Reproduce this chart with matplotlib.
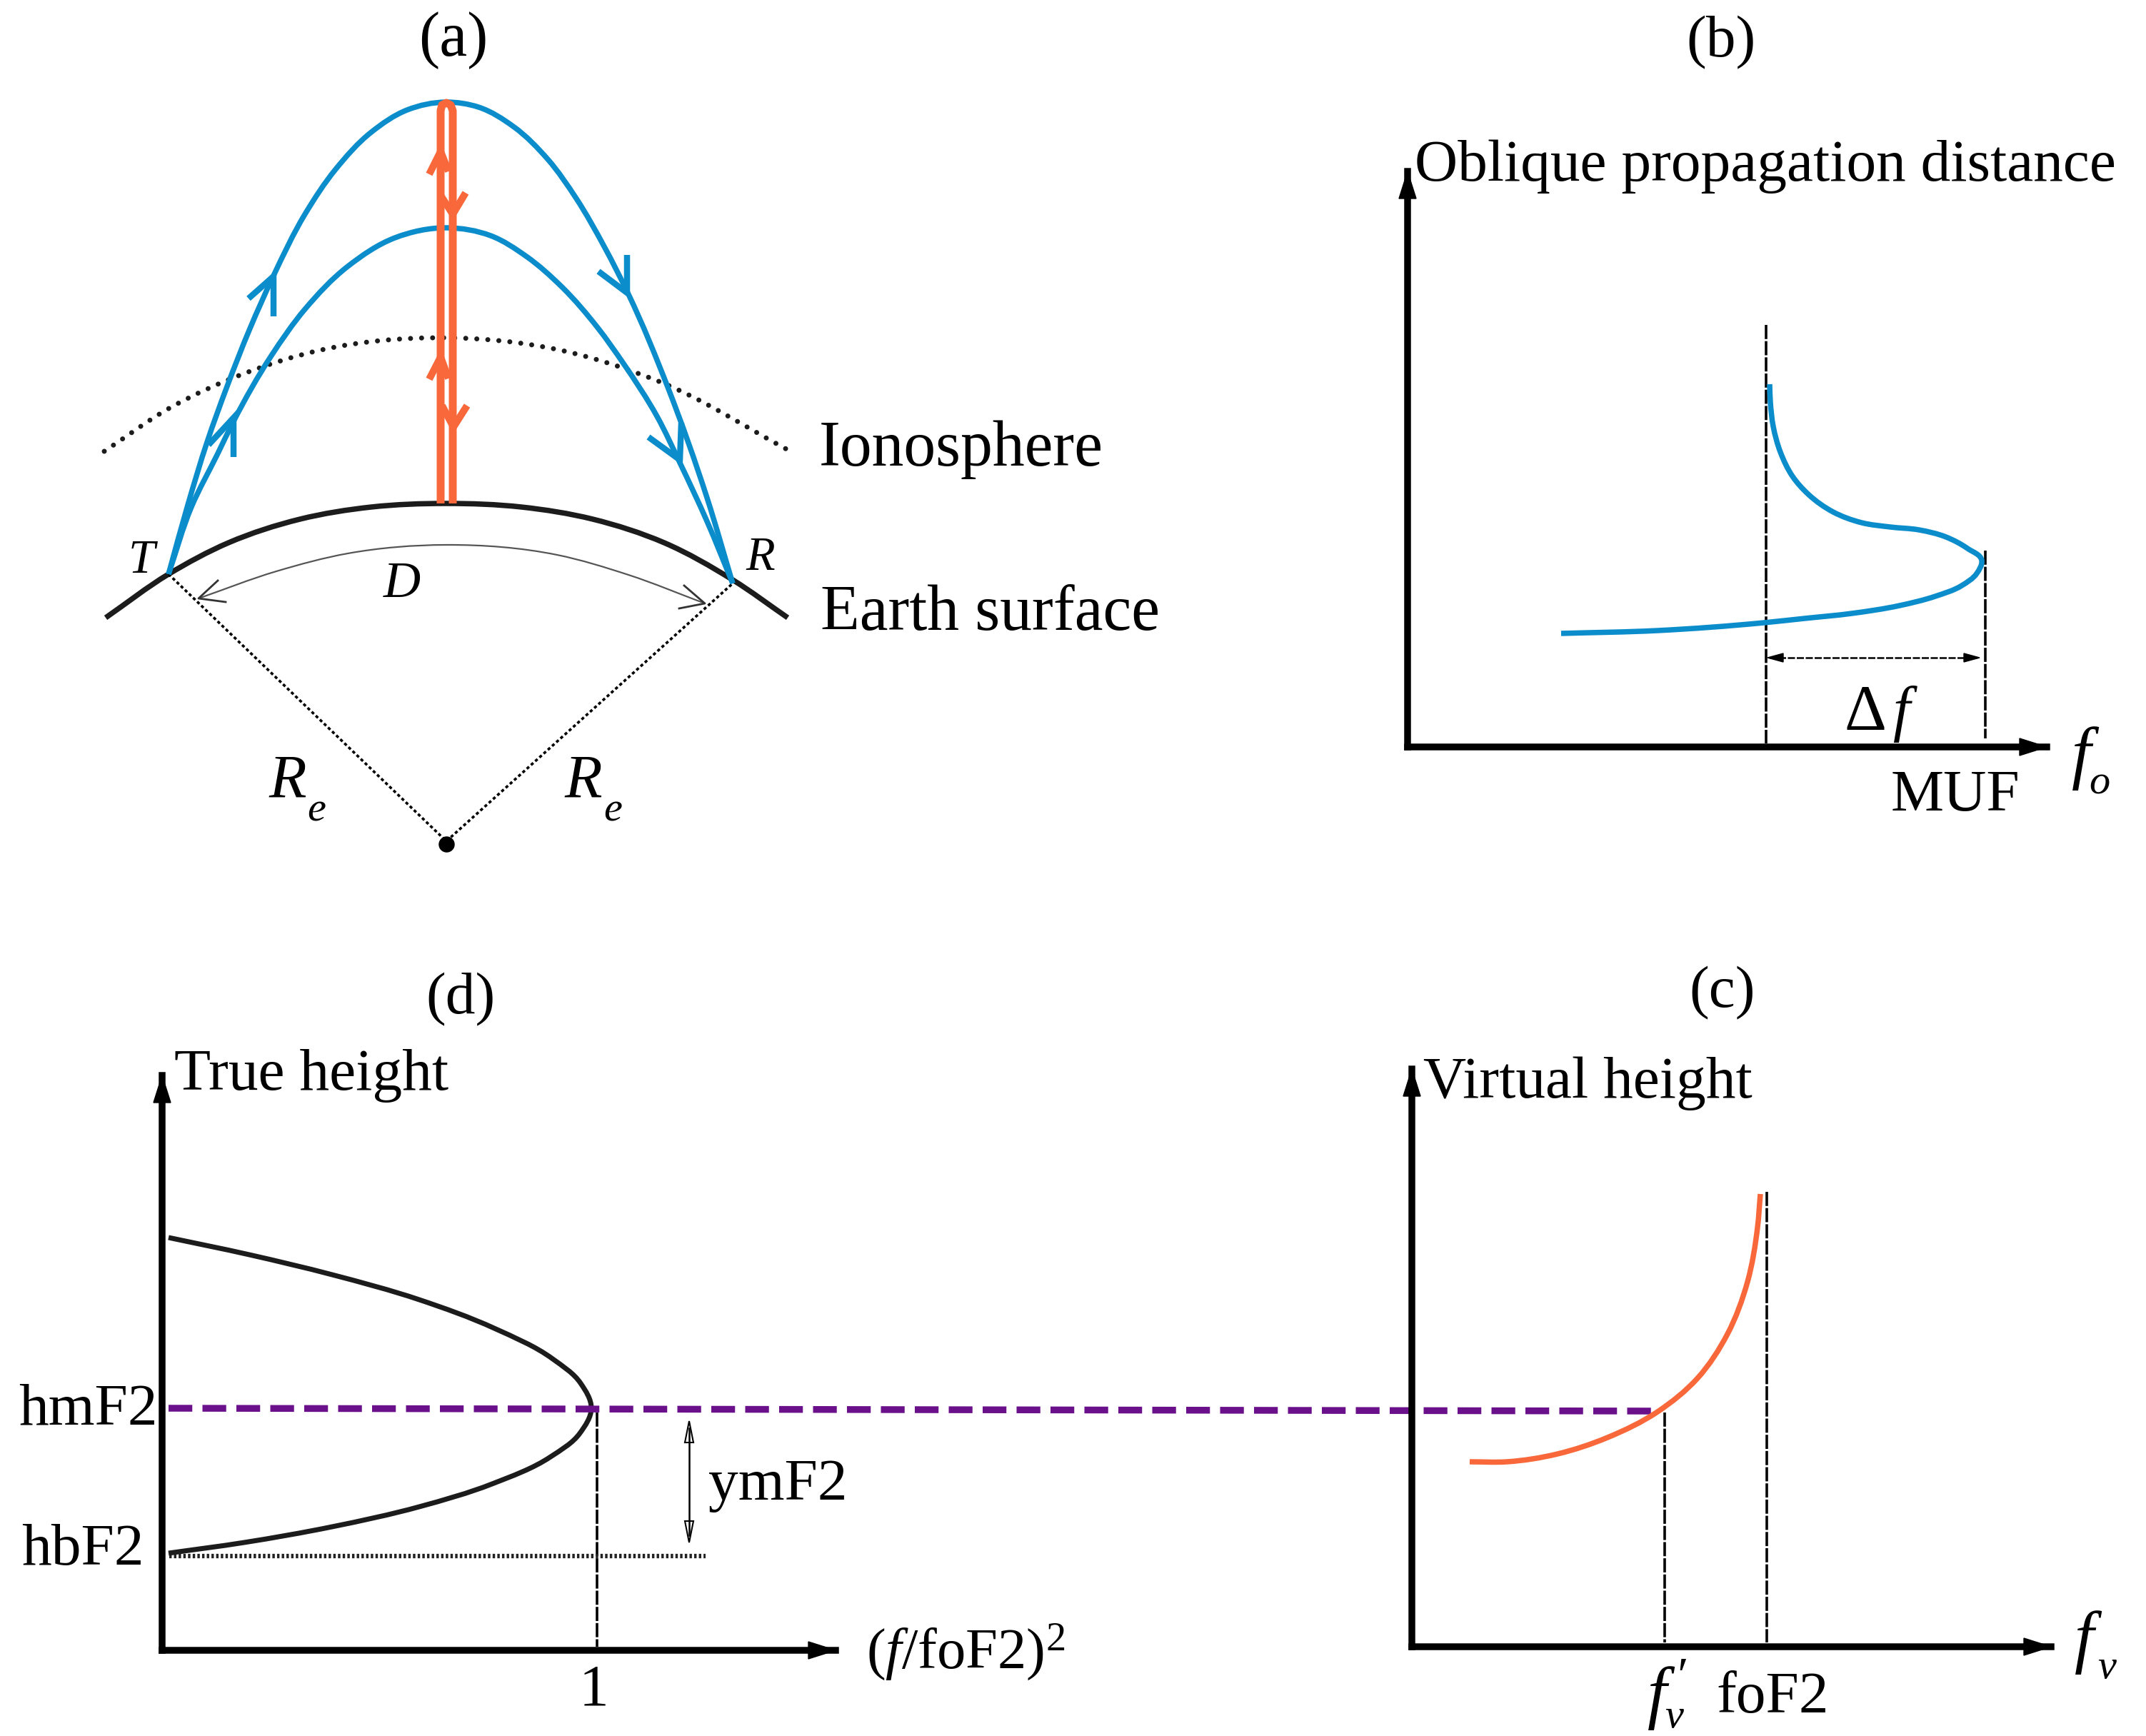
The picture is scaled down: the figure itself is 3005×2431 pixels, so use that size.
import numpy as np
import matplotlib
matplotlib.use('Agg')
import matplotlib.pyplot as plt
from matplotlib.path import Path
from matplotlib.patches import PathPatch, Polygon

plt.rcParams['font.family'] = ['Liberation Serif', 'DejaVu Serif']
plt.rcParams['mathtext.fontset'] = 'custom'
plt.rcParams['mathtext.rm'] = 'Liberation Serif'
plt.rcParams['mathtext.it'] = 'Liberation Serif:italic'

blue = '#0b8ccb'
orange = '#f8683a'
purple = '#6a108a'
black = '#1c1c1c'

# all curves are read off the picture, in image pixels
# (a) ray paths
outer_x = [236, 263, 290, 318, 350, 383, 427, 470, 520, 570, 625, 670, 720, 767, 807, 847, 880, 935, 990, 1026]
outer_y = [804, 707, 619, 541, 460, 386, 300, 237, 185, 154, 143, 150, 178, 223, 278, 347, 412, 542, 697, 817]
inner_x = [236, 268, 305, 327, 380, 427, 487, 553, 626, 687, 737, 787, 837, 873, 920, 952, 990, 1026]
inner_y = [804, 710, 635, 590, 498, 433, 373, 333, 319, 330, 359, 402, 459, 509, 583, 648, 730, 817]
earth_x = [148, 236, 320, 420, 520, 625, 730, 830, 930, 1026, 1103]
earth_y = [865, 804, 760, 727, 710, 705, 710, 727, 760, 812, 865]
iono_x = [146, 240, 342, 450, 623, 783, 920, 1107]
iono_y = [632, 570, 523, 490, 473, 490, 533, 632]
arc_x = [278, 387, 487, 625, 780, 880, 987]
arc_y = [838, 800, 775, 763, 777, 805, 845]
vert_x = [617, 617, 619, 625, 631, 634, 634]
vert_y = [705, 155, 147, 144, 147, 155, 705]

blue_barbs = [
	[(348, 418), (383, 387), (383, 443)],
	[(292, 623), (327, 585), (327, 640)],
	[(838, 380), (878, 410), (878, 357)],
	[(908, 612), (952, 644), (954, 592)],
]
orange_barbs = [
	[(601, 244), (617, 212), (628, 240)],
	[(616, 272), (634, 300), (652, 270)],
	[(601, 531), (617, 500), (628, 530)],
	[(619, 568), (635, 598), (654, 568)],
]

# (b) oblique ionogram
oblique_x = [2478, 2479, 2483, 2493, 2510, 2533, 2567, 2607, 2647, 2687, 2725, 2755, 2775, 2768, 2747, 2710, 2660, 2593, 2527, 2470, 2321, 2186]
oblique_y = [538, 563, 597, 633, 667, 693, 717, 732, 738, 742, 752, 768, 785, 803, 820, 835, 848, 859, 866, 872, 883, 887]

# (d) true height profile
true_x = [236, 349, 465, 587, 692, 774, 813, 828, 812, 771, 689, 587, 465, 342, 236]
true_y = [1733, 1757, 1785, 1820, 1860, 1903, 1937, 1972, 2007, 2040, 2078, 2110, 2138, 2160, 2175]

# (c) vertical ionogram
virtual_x = [2058, 2110, 2181, 2251, 2321, 2377, 2419, 2447, 2461, 2465]
virtual_y = [2047, 2047, 2036, 2013, 1977, 1930, 1868, 1795, 1719, 1672]

fig = plt.figure(figsize=(30.05, 24.31), dpi=100)
ax = fig.add_axes([0, 0, 1, 1])
ax.set_xlim(0, 3005)
ax.set_ylim(2431, 0)
ax.axis('off')


def smooth(xs, ys, color, width, **kw):
	# bezier segments through the read points, tangents weighted by chord length
	p = np.column_stack([xs, ys]).astype(float)
	d = np.diff(p, axis=0)
	h = np.hypot(d[:, 0], d[:, 1])
	s = d / h[:, None]
	t = np.vstack([s[0], h[1:, None] * s[:-1] + h[:-1, None] * s[1:], s[-1]])
	t /= np.hypot(t[:, 0], t[:, 1])[:, None]
	verts = [p[0]]
	codes = [Path.MOVETO]
	for i in range(len(p) - 1):
		verts += [p[i] + t[i] * h[i] / 3, p[i + 1] - t[i + 1] * h[i] / 3, p[i + 1]]
		codes += [Path.CURVE4] * 3
	patch = PathPatch(Path(verts, codes), fill=False, edgecolor=color, linewidth=width * 0.72, **kw)
	ax.add_patch(patch)
	return patch


def axis_arrow(x0, y0, x1, y1):
	ax.plot([x0, x1], [y0, y1], color='black', lw=9.5 * 0.72, solid_capstyle='projecting', zorder=3)
	d = np.array([x1 - x0, y1 - y0], float)
	d /= np.hypot(*d)
	n = np.array([-d[1], d[0]])
	tip = np.array([x1, y1])
	ax.add_patch(Polygon([tip, tip - 38 * d + 12 * n, tip - 38 * d - 12 * n], color='black', zorder=3))


def dashed(x0, y0, x1, y1, width=3.6):
	ax.plot([x0, x1], [y0, y1], color='black', lw=width * 0.72, dashes=(5.5, 0.8), zorder=1)


def label(x, y, s, size=60, ha='left', **kw):
	ax.text(x, y, s, fontsize=size, ha=ha, va='center', color='black', **kw)


# panel a
smooth(earth_x, earth_y, black, 7.5, capstyle='butt')
smooth(iono_x, iono_y, black, 7, linestyle=(0, (0.01, 2.2)), capstyle='round', zorder=1)
smooth(outer_x, outer_y, blue, 7.5, zorder=2)
smooth(inner_x, inner_y, blue, 7.5, zorder=2)
ax.plot(vert_x, vert_y, color=orange, lw=11 * 0.72, solid_joinstyle='round', solid_capstyle='butt', zorder=2)
for b in blue_barbs:
	ax.plot(*zip(*b), color=blue, lw=8.5 * 0.72, solid_joinstyle='miter', solid_capstyle='butt', zorder=2)
for b in orange_barbs:
	ax.plot(*zip(*b), color=orange, lw=10 * 0.72, solid_joinstyle='miter', solid_capstyle='butt', zorder=2)
smooth(arc_x, arc_y, '#555555', 2.2)
ax.plot([305, 278, 316], [813, 838, 843], color='#333333', lw=2)
ax.plot([958, 987, 951], [820, 845, 852], color='#333333', lw=2)
ax.plot([outer_x[0], 625, outer_x[-1]], [outer_y[0], 1178, outer_y[-1]], color='black', lw=2.6, linestyle=(0, (1.2, 1.0)), zorder=1)
ax.scatter([625], [1182], s=230, color='black', zorder=3)

label(635, 57, '(a)', size=63, ha='center')
label(2410, 60, '(b)', ha='center')
label(645, 1400, '(d)', ha='center')
label(2412, 1391, '(c)', ha='center')
label(1147, 630, 'Ionosphere', size=64.5)
label(1149, 860, 'Earth surface', size=64.5)
label(198, 785, 'T', size=48, ha='center', style='italic')
label(1065, 781, 'R', size=48, ha='center', style='italic')
label(563, 819, 'D', size=52, ha='center', style='italic')
label(403, 1096, 'R', size=62, ha='center', style='italic')
label(443, 1135, 'e', size=42, ha='center', style='italic')
label(817, 1096, 'R', size=62, ha='center', style='italic')
label(858, 1135, 'e', size=42, ha='center', style='italic')

# panel b
axis_arrow(1971, 1046, 1971, 240)
axis_arrow(1971, 1046, 2866, 1046)
dashed(2473, 455, 2473, 1041)
dashed(2780, 771, 2780, 1034)
smooth(oblique_x, oblique_y, blue, 7.5, zorder=2)
ax.plot([2478, 2768], [921, 921], color='black', lw=1.8, dashes=(4, 1))
ax.add_patch(Polygon([(2475, 921), (2497, 915), (2497, 927)], color='black'))
ax.add_patch(Polygon([(2772, 921), (2750, 915), (2750, 927)], color='black'))
label(1981, 233, 'Oblique propagation distance')
label(2612, 1000, '\u0394', size=66, ha='center')
label(2662, 1000, 'f', size=62, ha='center', style='italic')
label(2738, 1115, 'MUF', ha='center')
label(2914, 1062, 'f', size=70, ha='center', style='italic')
label(2940, 1098, 'o', size=42, ha='center', style='italic')

# panel d
axis_arrow(227, 2311, 227, 1506)
axis_arrow(227, 2311, 1170, 2311)
smooth(true_x, true_y, black, 7, zorder=2)
dashed(836, 1978, 836, 2306)
ax.plot([237, 988], [2179, 2179], color='#222222', lw=4.5, linestyle=(0, (0.55, 0.5)), zorder=1)
ax.plot([965, 965], [2000, 2150], color='black', lw=1.8)
ax.add_patch(Polygon([(965, 1990), (959, 2020), (971, 2020)], facecolor='white', edgecolor='black', lw=1.5))
ax.add_patch(Polygon([(965, 2160), (959, 2130), (971, 2130)], facecolor='white', edgecolor='black', lw=1.5))
ax.plot([236, 2321], [1972, 1976], color=purple, lw=9.5 * 0.72, dashes=(3.5, 1.5), zorder=2)
label(244, 1506, 'True height')
label(26, 1975, 'hmF2')
label(30, 2171, 'hbF2')
label(992, 2080, 'ymF2')
label(832, 2368, '1', ha='center')
label(1213, 2314, r'($\mathit{f}$/foF2)$^{2}$', size=58)

# panel c
axis_arrow(1977, 2306, 1977, 1497)
axis_arrow(1977, 2306, 2872, 2306)
dashed(2331, 1978, 2331, 2300)
dashed(2474, 1669, 2474, 2300)
smooth(virtual_x, virtual_y, orange, 7.5, zorder=2)
label(1993, 1517, 'Virtual height')
label(2918, 2300, 'f', size=70, ha='center', style='italic')
label(2950, 2336, 'v', size=42, ha='center', style='italic')
label(2320, 2378, 'f', size=70, ha='center', style='italic')
label(2344, 2405, 'v', size=42, ha='center', style='italic')
label(2352, 2352, '\u2032', size=50, ha='center', style='italic')
label(2403, 2378, 'foF2')

fig.savefig('out.png', dpi=100)
